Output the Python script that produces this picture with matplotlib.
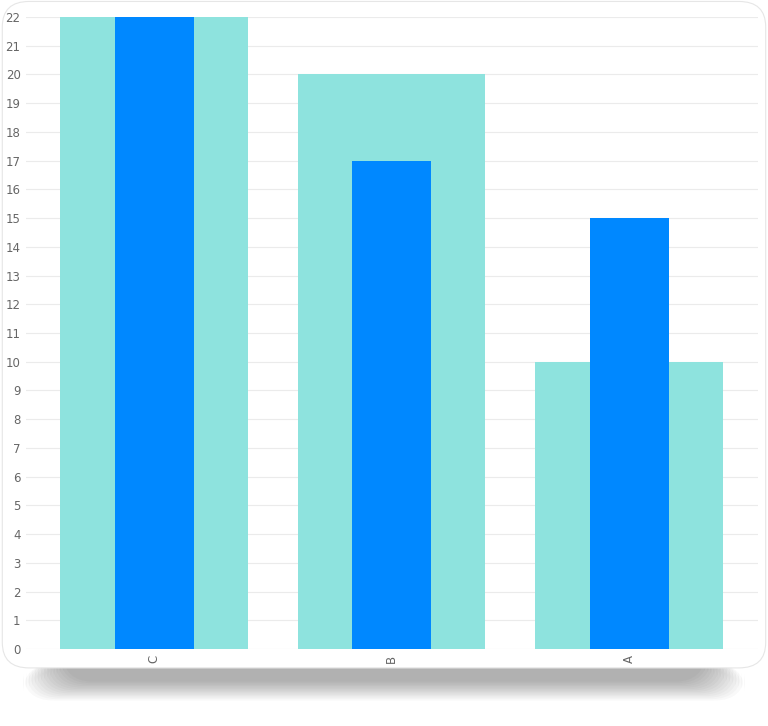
import numpy as np
import matplotlib.pyplot as plt
from matplotlib.patches import FancyBboxPatch

categories = ["C", "B", "A"]
wide_values = [22, 20, 10]
narrow_values = [22, 17, 15]
y_ticks = list(range(0, 23))

fig = plt.figure(figsize=(7.68, 7.26), dpi=100)
fig.patch.set_facecolor("white")

# shadow under the card
for i in range(14):
    sh = FancyBboxPatch((0.03 + i * 0.004, 0.035 + i * 0.002), 0.94 - i * 0.008, 0.05,
                        boxstyle="round,pad=0,rounding_size=0.04",
                        transform=fig.transFigure, facecolor="black",
                        alpha=0.025, edgecolor="none", zorder=-3)
    fig.patches.append(sh)

card = FancyBboxPatch((0.003, 0.08), 0.994, 0.918,
                      boxstyle="round,pad=0,rounding_size=0.035",
                      transform=fig.transFigure, facecolor="white",
                      edgecolor="#e6e6e6", linewidth=0.8, zorder=-2)
fig.patches.append(card)

ax = fig.add_axes([0.034, 0.106, 0.953, 0.8706])
ax.set_facecolor("none")
x = np.arange(len(categories))
ax.bar(x, wide_values, width=0.79, color="#8ee3de", zorder=2)
ax.bar(x, narrow_values, width=0.333, color="#0088ff", zorder=3)

ax.set_xlim(-0.539, 2.543)
ax.set_ylim(0, 22)
ax.set_yticks(y_ticks)
ax.set_xticks(x)
ax.set_xticklabels(categories, rotation=90)
ax.grid(axis="y", color="#ebebeb", linewidth=0.8, zorder=0)
ax.set_axisbelow(True)
for s in ax.spines.values():
    s.set_visible(False)
ax.tick_params(axis="both", length=0, labelsize=8.5, colors="#666666", pad=4)

fig.savefig("out.png", dpi=100)
